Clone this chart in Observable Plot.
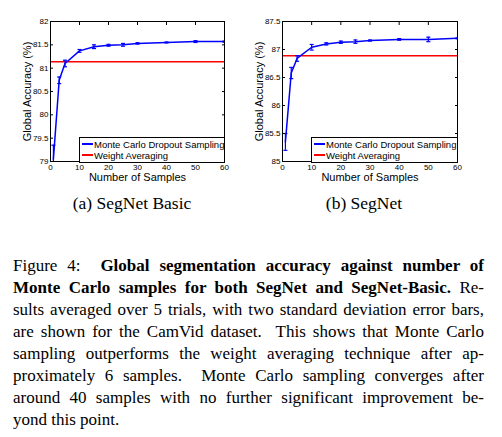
<!DOCTYPE html>
<html>
<head>
<meta charset="utf-8">
<script src="https://cdn.jsdelivr.net/npm/d3@7"></script>
<script src="https://cdn.jsdelivr.net/npm/@observablehq/plot@0.6"></script>
<style>
  body { margin: 0; background: #fff; width: 502px; height: 437px; position: relative; overflow: hidden; }
  .chart { position: absolute; top: 0; }
  .legend { position: absolute; top: 137px; height: 24px; border: 1px solid #000; background: #fff;
            font-family: "Liberation Sans", Arial, sans-serif; font-size: 9.5px; }
  .legend .row { position: absolute; left: 2px; height: 11px; line-height: 11px; white-space: nowrap; }
  .legend .sw { display: inline-block; width: 11px; height: 2px; vertical-align: middle; margin-right: 1px; position: relative; top: -1px; }
  .sub { position: absolute; top: 193px; font-family: "Liberation Serif", "Times New Roman", serif; font-size: 17.5px; transform: translateX(-50%); white-space: nowrap; }
  .para { position: absolute; left: 13px; top: 255px; width: 471px; font-family: "Liberation Serif", "Times New Roman", serif; font-size: 17px; line-height: 22px; color: #000; }
  .para div { white-space: nowrap; text-align: justify; text-align-last: justify; }
  .para div.last { text-align-last: left; }
</style>
</head>
<body>
<div id="a" class="chart" style="left:0"></div>
<div id="b" class="chart" style="left:250px"></div>

<div class="legend" style="left:79px; width:144px">
  <div class="row" style="top:1px"><span class="sw" style="background:#0000ff"></span>Monte Carlo Dropout Sampling</div>
  <div class="row" style="top:12px"><span class="sw" style="background:#ff0000"></span>Weight Averaging</div>
</div>
<div class="legend" style="left:311px; width:145px">
  <div class="row" style="top:1px"><span class="sw" style="background:#0000ff"></span>Monte Carlo Dropout Sampling</div>
  <div class="row" style="top:12px"><span class="sw" style="background:#ff0000"></span>Weight Averaging</div>
</div>

<div class="sub" style="left:132px">(a) SegNet Basic</div>
<div class="sub" style="left:364px">(b) SegNet</div>

<div class="para">
  <div>Figure 4:&nbsp; <b>Global segmentation accuracy against number of</b></div>
  <div><b>Monte Carlo samples for both SegNet and SegNet-Basic.</b> Re-</div>
  <div>sults averaged over 5 trials, with two standard deviation error bars,</div>
  <div>are shown for the CamVid dataset.&nbsp; This shows that Monte Carlo</div>
  <div>sampling outperforms the weight averaging technique after ap-</div>
  <div>proximately 6 samples.&nbsp; Monte Carlo sampling converges after</div>
  <div>around 40 samples with no further significant improvement be-</div>
  <div class="last">yond this point.</div>
</div>

<script>
const samples = [1, 3, 5, 10, 15, 20, 25, 30, 40, 50, 60];

// SegNet Basic
const basicMean = [79.05, 80.74, 81.10, 81.37, 81.46, 81.49, 81.50, 81.53, 81.55, 81.57, 81.57];
const basicErr  = [0.30, 0.07, 0.07, 0.03, 0.04, 0.02, 0.03, 0.015, 0.01, 0.02, 0.01];
const basicWeightAvg = 81.14;

// SegNet
const segMean = [85.35, 86.58, 86.84, 87.04, 87.10, 87.13, 87.14, 87.16, 87.18, 87.18, 87.20];
const segErr  = [0.15, 0.10, 0.05, 0.05, 0.02, 0.02, 0.03, 0.01, 0.015, 0.04, 0.01];
const segWeightAvg = 86.89;

const xTicks = [0, 10, 20, 30, 40, 50, 60];
const basicYTicks = [79, 79.5, 80, 80.5, 81, 81.5, 82];
const segYTicks = [85, 85.5, 86, 86.5, 87, 87.5];
const xTitle = "Number of Samples";
const yTitle = "Global Accuracy (%)";

const cap = {
  draw(context) {
    context.moveTo(-2, 0);
    context.lineTo(2, 0);
  }
};

const fmt = d => `${d}`;

function chart(mean, err, wavg, yDomain, yTicks, width, mLeft, mRight) {
  const rows = samples.map((s, i) => ({x: s, y: mean[i], lo: mean[i] - err[i], hi: mean[i] + err[i]}));
  return Plot.plot({
    width,
    height: 185,
    marginLeft: mLeft,
    marginRight: mRight,
    marginTop: 21,
    marginBottom: 24,
    style: {fontFamily: "Liberation Sans, Arial, sans-serif", fontSize: "8px", background: "#fff", color: "#000"},
    x: {domain: [0, 60]},
    y: {domain: yDomain},
    marks: [
      Plot.ruleY([wavg], {stroke: "#ff0000", strokeWidth: 1.5}),
      Plot.line(rows, {x: "x", y: "y", stroke: "#0000ff", strokeWidth: 1.5, clip: true}),
      Plot.ruleX(rows, {x: "x", y1: "lo", y2: "hi", stroke: "#0000ff", strokeWidth: 1.2, clip: true}),
      Plot.dot(rows, {x: "x", y: "lo", symbol: cap, stroke: "#0000ff", strokeWidth: 1.2, fill: "none", clip: true}),
      Plot.dot(rows, {x: "x", y: "hi", symbol: cap, stroke: "#0000ff", strokeWidth: 1.2, fill: "none", clip: true}),
      Plot.frame({stroke: "#000"}),
      Plot.axisX(xTicks, {tickSize: 0, tickPadding: 3, tickFormat: fmt, label: null}),
      Plot.axisX(xTicks, {anchor: "bottom", tickSize: -3, text: null, label: null}),
      Plot.axisX(xTicks, {anchor: "top", tickSize: -3, text: null, label: null}),
      Plot.axisY(yTicks, {tickSize: 0, tickPadding: 2, tickFormat: fmt, label: null}),
      Plot.axisY(yTicks, {anchor: "left", tickSize: -3, text: null, label: null}),
      Plot.axisY(yTicks, {anchor: "right", tickSize: -3, text: null, label: null}),
      Plot.text([xTitle], {frameAnchor: "bottom", dy: 16, fontSize: 11, lineAnchor: "middle"}),
      Plot.text([yTitle], {frameAnchor: "left", dx: -23, rotate: -90, fontSize: 11, textAnchor: "middle", lineAnchor: "middle"})
    ]
  });
}

document.getElementById("a").append(chart(basicMean, basicErr, basicWeightAvg, [79, 82], basicYTicks, 250, 50, 26));
document.getElementById("b").append(chart(segMean, segErr, segWeightAvg, [85, 87.5], segYTicks, 252, 32, 45));
</script>
</body>
</html>
